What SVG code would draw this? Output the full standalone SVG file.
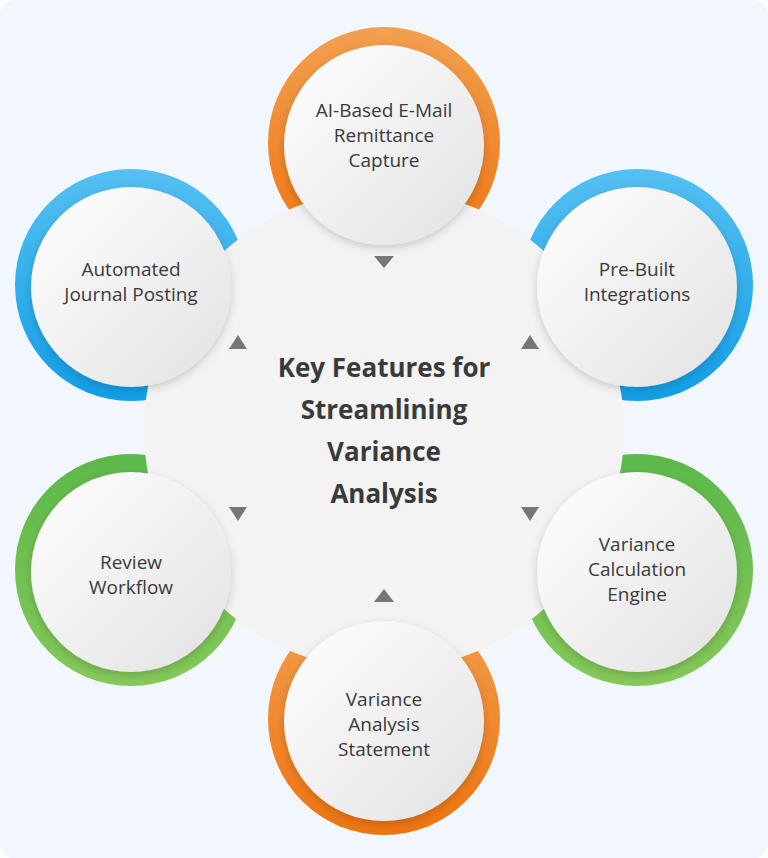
<svg xmlns="http://www.w3.org/2000/svg" width="768" height="858" viewBox="0 0 768 858">
<defs>
<linearGradient id="go" x1="0" y1="0" x2="0" y2="1"><stop offset="0" stop-color="#f2a04f"/><stop offset="1" stop-color="#ee7410"/></linearGradient>
<linearGradient id="gb" x1="0" y1="0" x2="0" y2="1"><stop offset="0" stop-color="#55c0f2"/><stop offset="1" stop-color="#129ee6"/></linearGradient>
<linearGradient id="gg" x1="0" y1="0" x2="0" y2="1"><stop offset="0" stop-color="#5cb84a"/><stop offset="1" stop-color="#86c95a"/></linearGradient>
<linearGradient id="gw" x1="0" y1="0" x2="1" y2="1"><stop offset="0" stop-color="#ffffff"/><stop offset="1" stop-color="#e2e2e2"/></linearGradient>
<filter id="sh" x="-20%" y="-20%" width="140%" height="140%"><feDropShadow dx="0" dy="3" stdDeviation="4" flood-color="#000" flood-opacity="0.18"/></filter>
</defs>
<style>
.w{fill:url(#gw);filter:url(#sh)}
.t{font-family:"Open Sans",Lato,sans-serif;font-size:19px;fill:#3a3a3a;text-anchor:middle}
.h{font-family:"Open Sans",Lato,sans-serif;font-size:26px;font-weight:bold;fill:#3a3a3a;text-anchor:middle}
.a{fill:#777}
</style>
<rect x="0" y="0" width="768" height="858" rx="14" fill="#f1f7fc"/>
<g id="rings">
<circle cx="384" cy="143" r="116" fill="url(#go)"/>
<circle cx="384" cy="719" r="116" fill="url(#go)"/>
<circle cx="131" cy="285" r="116" fill="url(#gb)"/>
<circle cx="637" cy="285" r="116" fill="url(#gb)"/>
<circle cx="131" cy="570" r="116" fill="url(#gg)"/>
<circle cx="637" cy="570" r="116" fill="url(#gg)"/>
</g>
<g id="center">
<circle cx="384" cy="430" r="240" fill="#f3f3f3"/>
<text class="h" x="384" y="377">Key Features for</text>
<text class="h" x="384" y="419">Streamlining</text>
<text class="h" x="384" y="461">Variance</text>
<text class="h" x="384" y="503">Analysis</text>
</g>
<g id="connectors">
<polygon class="a" points="374,256 394,256 384,268"/>
<polygon class="a" points="521,349 539,349 530,335"/>
<polygon class="a" points="521,507 539,507 530,521"/>
<polygon class="a" points="374,602 394,602 384,589"/>
<polygon class="a" points="229,349 247,349 238,335"/>
<polygon class="a" points="229,507 247,507 238,521"/>
</g>
<g id="n1"><circle class="w" cx="384" cy="145" r="100"/>
<text class="t" x="384" y="117">AI-Based E-Mail</text><text class="t" x="384" y="142">Remittance</text><text class="t" x="384" y="167">Capture</text></g>
<g id="n2"><circle class="w" cx="637" cy="287" r="100"/>
<text class="t" x="637" y="276">Pre-Built</text><text class="t" x="637" y="301">Integrations</text></g>
<g id="n3"><circle class="w" cx="637" cy="572" r="100"/>
<text class="t" x="637" y="551">Variance</text><text class="t" x="637" y="576">Calculation</text><text class="t" x="637" y="601">Engine</text></g>
<g id="n4"><circle class="w" cx="384" cy="721" r="100"/>
<text class="t" x="384" y="706">Variance</text><text class="t" x="384" y="731">Analysis</text><text class="t" x="384" y="756">Statement</text></g>
<g id="n5"><circle class="w" cx="131" cy="572" r="100"/>
<text class="t" x="131" y="569">Review</text><text class="t" x="131" y="594">Workflow</text></g>
<g id="n6"><circle class="w" cx="131" cy="287" r="100"/>
<text class="t" x="131" y="276">Automated</text><text class="t" x="131" y="301">Journal Posting</text></g>
</svg>
